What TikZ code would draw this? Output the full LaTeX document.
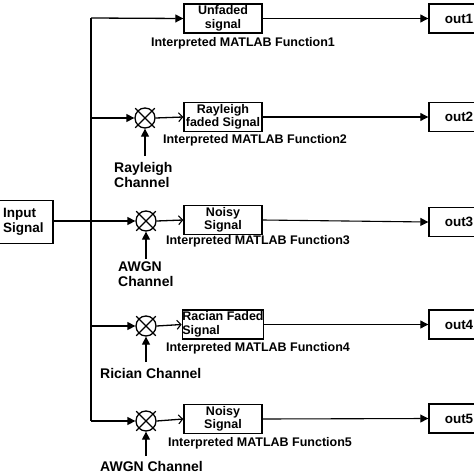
\documentclass[tikz,border=0pt]{standalone}
\usepackage{fontspec}
\setmainfont{Liberation Sans}
\usetikzlibrary{arrows.meta,calc}

\tikzset{
  wire/.style={line width=1.3pt},
  sim/.style={-{Triangle[length=8pt,width=8pt]}},
  port/.style={-{Straight Barb[length=4pt,width=9pt,line width=1.1pt]}},
  blk/.style={draw, line width=1.4pt, minimum width=78pt, minimum height=29pt, inner sep=1pt, align=center, font=\fontsize{12.5}{13.5}\selectfont\bfseries},
  outblk/.style={draw, line width=1.4pt, minimum width=60pt, minimum height=29pt, font=\fontsize{13.5}{14}\selectfont\bfseries},
  mult/.style={draw, circle, line width=1.3pt, minimum size=20pt, inner sep=0pt},
  fname/.style={font=\fontsize{12.5}{13}\selectfont\bfseries},
  chan/.style={font=\fontsize{14}{15}\selectfont\bfseries, align=left, inner sep=0pt}
}

\begin{document}
\begin{tikzpicture}[x=1pt,y=-1pt]
        \useasboundingbox (0,0) rectangle (474,474);
        \clip (0,0) rectangle (474,474);
        %\draw[help lines] (0,0) grid[step=50] (474,474);

        \draw[line width=1.4pt] (-20,200.5) rectangle (53,243.5);
        \node[align=left, inner sep=0pt, anchor=west, font=\fontsize{13.5}{15}\selectfont\bfseries] (in) at (3,222) {Input\\Signal};
        \coordinate (inr) at (53,221);

        \coordinate (b1) at (91,18);
        \coordinate (b2) at (91,118);
        \coordinate (b4) at (91,326);
        \coordinate (b5) at (91,421);

        \node[mult] (m2) at (145,118) {};
        \node[mult] (m3) at (146,221) {};
        \node[mult] (m4) at (146,326) {};
        \node[mult] (m5) at (146,421) {};

        \node[blk] (f1) at (223,18.5) {Unfaded\\signal};
        \node[blk] (f2) at (223,117) {Rayleigh\\faded Signal};
        \node[blk] (f3) at (223,220) {Noisy\\Signal};
        \node[blk, align=left, inner xsep=0pt] (f4) at (223,324.5) {Racian Faded\\Signal};
        \node[blk] (f5) at (223,419) {Noisy\\Signal};

        \node[outblk] (o1) at (459,18.5) {out1};
        \node[outblk] (o2) at (459,117) {out2};
        \node[outblk] (o3) at (459,222) {out3};
        \node[outblk] (o4) at (459,324.5) {out4};
        \node[outblk] (o5) at (459,418.5) {out5};

        \node[fname] (l1) at (243,43) {Interpreted MATLAB Function1};
        \node[fname] (l2) at (255,140) {Interpreted MATLAB Function2};
        \node[fname] (l3) at (258,241) {Interpreted MATLAB Function3};
        \node[fname] (l4) at (258,348) {Interpreted MATLAB Function4};
        \node[fname] (l5) at (260,443) {Interpreted MATLAB Function5};

        \coordinate (c2) at (145,156);
        \coordinate (c3) at (146,259);
        \coordinate (c4) at (146,362);
        \coordinate (c5) at (146,456);

        \node[chan, anchor=north west] (ch2) at (114,162) {Rayleigh\\Channel};
        \node[chan, anchor=north west] (ch3) at (118,262) {AWGN\\Channel};
        \node[chan, anchor=west] (ch4) at (100,373) {Rician Channel};
        \node[chan, anchor=west] (ch5) at (100,466) {AWGN Channel};

        % bus
        \draw[wire] (b1) -- (b5);
        \draw[wire, sim] (b1) -- (f1.west);
        \draw[wire, sim] (inr) -- (m3.west);
        \foreach \i in {2,4,5}
            \draw[wire, sim] (b\i) -- (m\i.west);

        \foreach \i in {2,3,4,5}{
            \draw[line width=1.2pt] ($(m\i.center)!1.3!(m\i.north west)$) -- ($(m\i.center)!1.3!(m\i.south east)$);
            \draw[line width=1.2pt] ($(m\i.center)!1.3!(m\i.north east)$) -- ($(m\i.center)!1.3!(m\i.south west)$);
            \draw[wire, port] (m\i.east) -- (f\i.west);
            \draw[wire, sim] (c\i) -- (m\i.south);
        }

        \foreach \i in {1,...,5}
            \draw[line width=1.1pt, sim] (f\i.east) -- (o\i.west);
\end{tikzpicture}
\end{document}
